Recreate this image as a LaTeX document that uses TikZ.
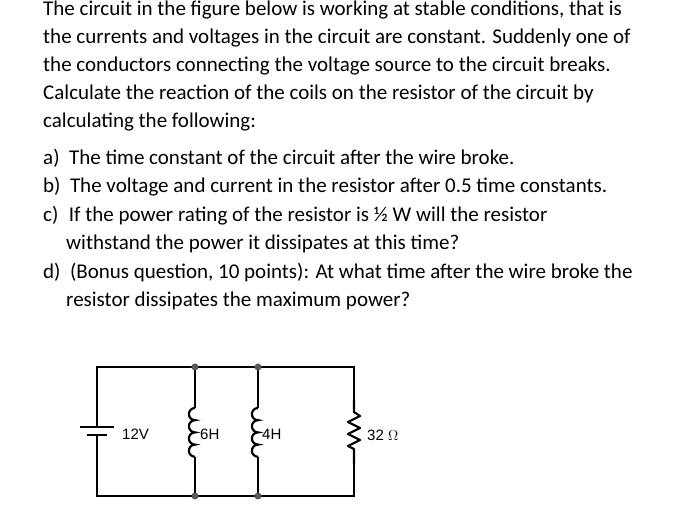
\documentclass[tikz,border=0pt]{standalone}
\usepackage{fontspec}
\setmainfont{Carlito}
\newfontfamily\lab{Liberation Sans}
\begin{document}
\begin{tikzpicture}[x=1pt,y=1pt,
  txt/.style={anchor=base west,inner sep=0pt,font=\fontsize{21}{24}\selectfont},
  lbl/.style={anchor=west,inner sep=0pt,font=\lab\fontsize{15}{17}\selectfont},
  wire/.style={line width=1.3pt},
  comp/.style={line width=2.2pt},
  dot/.style={circle,fill=black!65,inner sep=0pt,minimum size=7pt}]
\useasboundingbox (0,0) rectangle (698,524);
\node[txt] (l1) at (43,508) {The circuit in the figure below is working at stable conditions, that is};
\node[txt] (l2) at (43,480) {the currents and voltages in the circuit are constant. Suddenly one of};
\node[txt] (l3) at (43,452) {the conductors connecting the voltage source to the circuit breaks.};
\node[txt] (l4) at (43,424) {Calculate the reaction of the coils on the resistor of the circuit by};
\node[txt] (l5) at (43,396) {calculating the following:};
\node[txt] (a) at (43,359) {a)\hspace{0.45em}The time constant of the circuit after the wire broke.};
\node[txt] (b) at (43,331) {b)\hspace{0.45em}The voltage and current in the resistor after 0.5 time constants.};
\node[txt] (c) at (43,302) {c)\hspace{0.5em}If the power rating of the resistor is ½ W will the resistor};
\node[txt] (c2) at (66,274) {withstand the power it dissipates at this time?};
\node[txt] (d) at (43,245) {d)\hspace{0.45em}(Bonus question, 10 points): At what time after the wire broke the};
\node[txt] (d2) at (66,217) {resistor dissipates the maximum power?};
% circuit
\coordinate (tl) at (97,157); \coordinate (bl) at (97,28);
\coordinate (tr) at (354,157); \coordinate (br) at (354,28);
\draw[wire] (195,157) -- (tl) -- (97,100);
\draw[wire] (195,157) -- (258,157) -- (tr) -- (354,124);
\draw[wire] (195,28) -- (bl) -- (97,89);
\draw[wire] (195,28) -- (258,28) -- (br) -- (354,67);
\draw[comp] (97,124) -- (97,97); \draw[comp] (97,89) -- (97,68);
\draw[line width=1.3pt] (80,97) -- (114,97);
\draw[line width=2.8pt] (87,89) -- (107,89);
\foreach \x in {195,258}{
  \draw[wire] (\x,157) -- (\x,124); \draw[wire] (\x,67) -- (\x,28);
  \draw[comp] (\x,124) -- (\x,116);
  \draw[comp] (\x,116) arc[start angle=90,end angle=270,radius=6.1]
     arc[start angle=90,end angle=270,radius=6.1]
     arc[start angle=90,end angle=270,radius=6.1]
     arc[start angle=90,end angle=270,radius=6.1];
  \draw[comp] (\x,67.2) -- (\x,60);}
\node[dot] (j1t) at (195,157) {}; \node[dot] (j2t) at (258,157) {};
\node[dot] (j1b) at (195,28) {}; \node[dot] (j2b) at (258,28) {};
\draw[comp,line join=round] (354,124) -- (354,112) -- (360,108) -- (348,102) -- (360,96) -- (348,90) -- (360,84) -- (348,78) -- (354,75) -- (354,60);
\node[lbl] (v) at (122,90) {12V};
\node[lbl] (h6) at (200,90) {6H};
\node[lbl] (h4) at (262,90) {4H};
\node[lbl] (r) at (367,89) {32 $\Omega$};
\end{tikzpicture}
\end{document}
